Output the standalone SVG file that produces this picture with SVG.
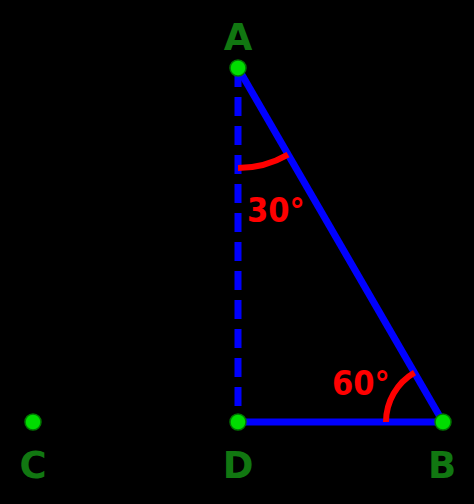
<svg xmlns="http://www.w3.org/2000/svg" width="474" height="504" viewBox="0 0 474 504">
<style>
.seg{stroke:#0000ff;stroke-width:7;fill:none}
.arc{stroke:#ff0000;stroke-width:6;fill:none}
.pt{fill:#00dd00;stroke:#007700;stroke-width:1.5}
.lbl{font-family:"DejaVu Sans",sans-serif;font-weight:bold;font-size:37px;fill:#117711;text-anchor:middle}
.ang{font-family:"DejaVu Sans Condensed","DejaVu Sans",sans-serif;font-stretch:condensed;font-weight:bold;font-size:34px;fill:#ff0000}
</style>
<rect width="474" height="504" fill="#000"/>
<g id="connectors">
<line class="seg" x1="238" y1="68" x2="238" y2="422" stroke-dasharray="19 10"/>
<line class="seg" x1="238" y1="68" x2="443" y2="422"/>
<line class="seg" x1="238" y1="422" x2="443" y2="422"/>
<path class="arc" d="M238,168 A100,100 0 0 0 288,154.6"/>
<path class="arc" d="M386,422 A57,57 0 0 1 414.5,372.6"/>
<text class="ang" x="247" y="222">30°</text>
<text class="ang" x="332" y="395">60°</text>
</g>
<g id="A"><circle class="pt" cx="238" cy="68" r="8"/><text class="lbl" x="238" y="50">A</text></g>
<g id="B"><circle class="pt" cx="443" cy="422" r="8"/><text class="lbl" x="442" y="478">B</text></g>
<g id="C"><circle class="pt" cx="33" cy="422" r="8"/><text class="lbl" x="33" y="478">C</text></g>
<g id="D"><circle class="pt" cx="238" cy="422" r="8"/><text class="lbl" x="238" y="478">D</text></g>
</svg>
